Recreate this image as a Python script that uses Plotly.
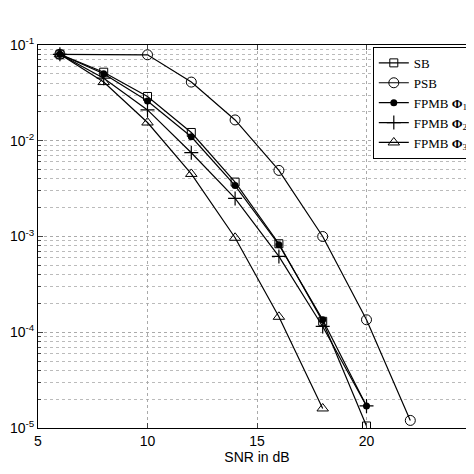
import plotly.graph_objects as go

snr = [6, 8, 10, 12, 14, 16, 18, 20, 22]

sb = [0.08, 0.052, 0.029, 0.0122, 0.0037, 8.4e-4, 1.3e-4, 1.05e-5]
psb_x = [6, 10, 12, 14, 16, 18, 20, 22]
psb = [0.08, 0.079, 0.041, 0.0165, 0.0049, 0.001, 1.35e-4, 1.2e-5]
fp1 = [0.08, 0.05, 0.026, 0.011, 0.0034, 8.2e-4, 1.35e-4, 1.7e-5]
fp2 = [0.08, 0.045, 0.021, 0.0075, 0.0025, 6.2e-4, 1.15e-4, 1.7e-5]
fp3 = [0.08, 0.041, 0.0155, 0.0045, 9.7e-4, 1.45e-4, 1.6e-5]

# minor grid positions for the log axis
minor_vals = [k * 10.0 ** e for e in range(-5, -1) for k in range(2, 10)]

fig = go.Figure()
line = dict(color='black', width=1.2)
fig.add_trace(go.Scatter(x=snr[:8], y=sb, name='SB', mode='lines+markers', line=line,
                         marker=dict(symbol='square-open', size=8, color='black')))
fig.add_trace(go.Scatter(x=psb_x, y=psb, name='PSB', mode='lines+markers', line=line,
                         marker=dict(symbol='circle-open', size=10, color='black')))
fig.add_trace(go.Scatter(x=snr[:8], y=fp1, name='FPMB <b>Φ</b><sub>1</sub>', mode='lines+markers', line=line,
                         marker=dict(symbol='circle', size=7, color='black')))
fig.add_trace(go.Scatter(x=snr[:8], y=fp2, name='FPMB <b>Φ</b><sub>2</sub>', mode='lines+markers', line=line,
                         marker=dict(symbol='cross-thin-open', size=10, color='black', line=dict(width=1.2))))
fig.add_trace(go.Scatter(x=snr[:7], y=fp3, name='FPMB <b>Φ</b><sub>3</sub>', mode='lines+markers', line=line,
                         marker=dict(symbol='triangle-up-open', size=10, color='black')))

fig.update_layout(
    width=474, height=474, paper_bgcolor='white', plot_bgcolor='white',
    margin=dict(l=30, r=6, t=37, b=54),
    font=dict(family='Liberation Serif', size=13, color='black'),
    legend=dict(x=0.995, y=0.995, xanchor='right', yanchor='top', bordercolor='black',
                borderwidth=1, bgcolor='white', tracegroupgap=0, itemwidth=30,
                font=dict(size=13)),
)
fig.update_xaxes(range=[5, 25], tickvals=[5, 10, 15, 20, 25], title=dict(text='SNR in dB', standoff=2),
                 showline=True, mirror='ticks', linecolor='black', ticks='inside',
                 gridcolor='#aaaaaa', griddash='dot', zeroline=False, automargin=False,
                 tickfont=dict(family='Liberation Sans', size=14), title_font=dict(family='Liberation Sans', size=14))
fig.update_yaxes(type='log', range=[-5, -1], tickvals=[1e-5, 1e-4, 1e-3, 1e-2, 1e-1],
                 ticktext=['10<sup>-5</sup>', '10<sup>-4</sup>', '10<sup>-3</sup>', '10<sup>-2</sup>', '10<sup>-1</sup>'],
                 showline=True, mirror='ticks', linecolor='black', ticks='inside',
                 gridcolor='#aaaaaa', griddash='dot', automargin=False,
                 minor=dict(tickmode='array', tickvals=minor_vals, showgrid=True, gridcolor='#bbbbbb',
                            griddash='dot', ticks='inside', ticklen=3),
                 tickfont=dict(family='Liberation Sans', size=14))
fig.write_html("out.html")
